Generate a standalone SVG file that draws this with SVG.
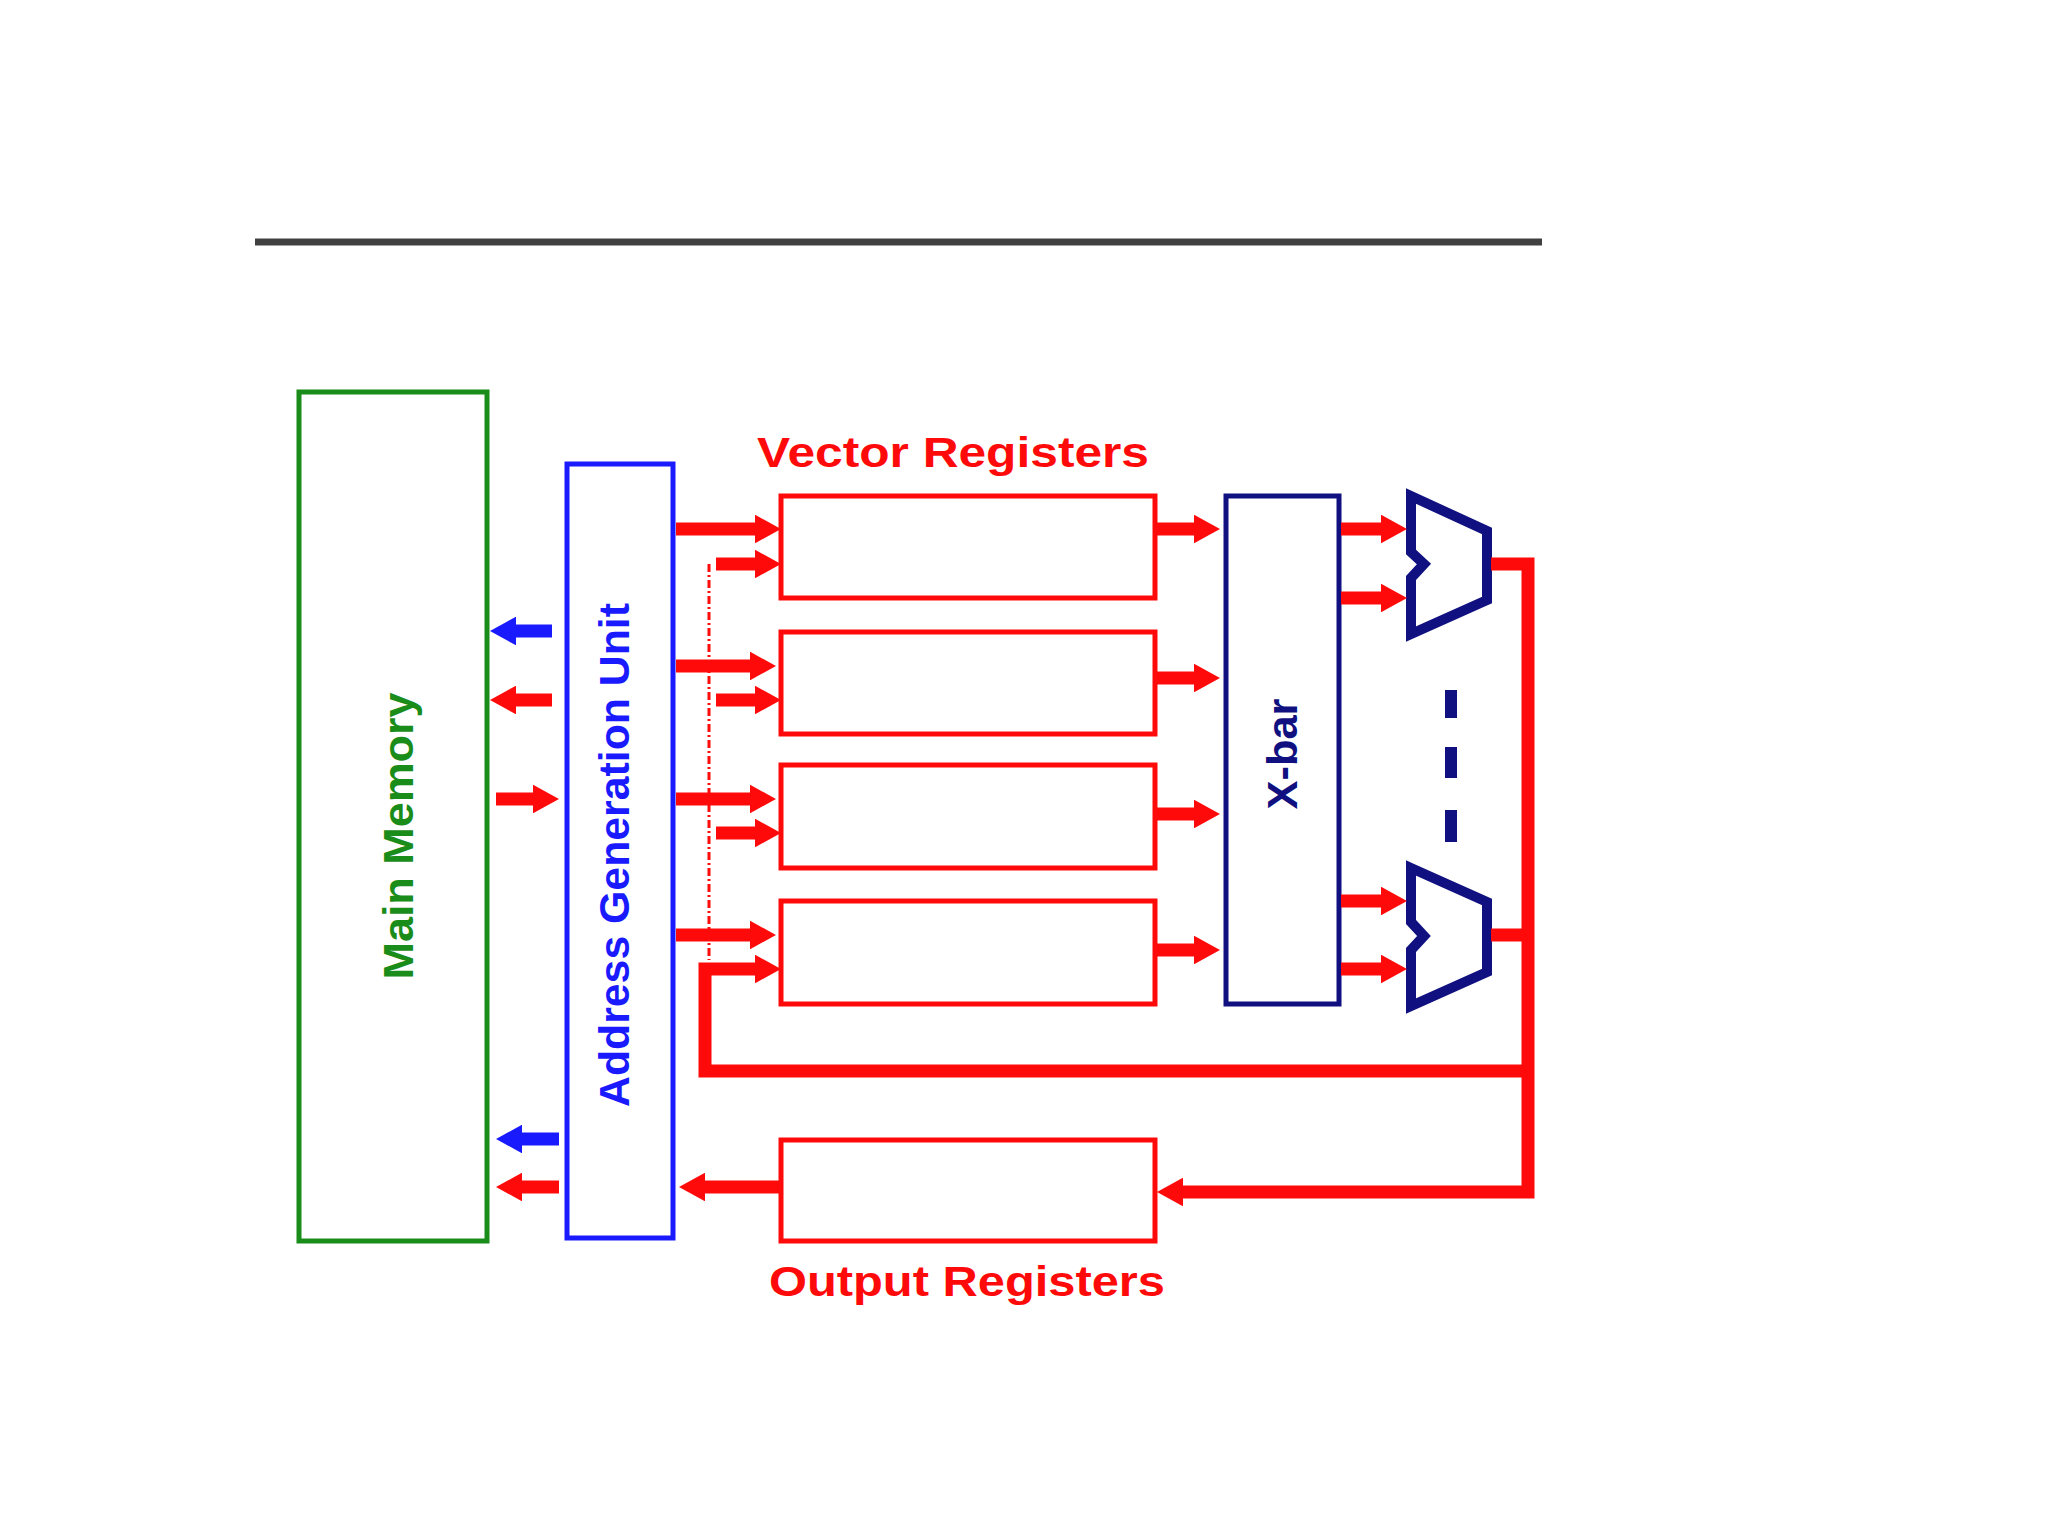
<svg xmlns="http://www.w3.org/2000/svg" width="2048" height="1536" viewBox="0 0 2048 1536">
<style>
.r{stroke:#ff0a0a;stroke-width:13;fill:none}
.b{stroke:#1a1aff;stroke-width:13;fill:none}
.box{fill:#fff;stroke-width:5}
.t{font-family:"Liberation Sans",Arial,sans-serif;font-weight:bold;font-size:43px;text-anchor:middle;dominant-baseline:central}
</style>
<defs>
<marker id="hr" markerWidth="2" markerHeight="2.2" refX="0" refY="1.1" orient="auto" markerUnits="strokeWidth"><path d="M0,0 L2,1.1 L0,2.2z" fill="#ff0a0a"/></marker>
<marker id="hb" markerWidth="2" markerHeight="2.2" refX="0" refY="1.1" orient="auto" markerUnits="strokeWidth"><path d="M0,0 L2,1.1 L0,2.2z" fill="#1a1aff"/></marker>
</defs>
<line x1="255" y1="242" x2="1542" y2="242" stroke="#404040" stroke-width="7"/>
<g id="main-memory"><rect class="box" x="299" y="392" width="188" height="849" stroke="#1a8c1a"/><text class="t" fill="#1a8c1a" transform="translate(398,836) rotate(-90)" textLength="287" lengthAdjust="spacingAndGlyphs">Main Memory</text></g>
<g id="agu"><rect class="box" x="567" y="464" width="106" height="774" stroke="#1a1aff"/><text class="t" fill="#1a1aff" transform="translate(614,855) rotate(-90)" textLength="504" lengthAdjust="spacingAndGlyphs">Address Generation Unit</text></g>
<g id="vreg-label"><text class="t" fill="#ff0a0a" x="953" y="452" textLength="392" lengthAdjust="spacingAndGlyphs">Vector Registers</text></g>
<g id="vreg1"><rect class="box" x="781" y="496" width="374" height="102" stroke="#ff0a0a"/></g>
<g id="vreg2"><rect class="box" x="781" y="632" width="374" height="102" stroke="#ff0a0a"/></g>
<g id="vreg3"><rect class="box" x="781" y="765" width="374" height="103" stroke="#ff0a0a"/></g>
<g id="vreg4"><rect class="box" x="781" y="901" width="374" height="103" stroke="#ff0a0a"/></g>
<g id="oreg"><rect class="box" x="781" y="1140" width="374" height="101" stroke="#ff0a0a"/><text class="t" fill="#ff0a0a" x="967" y="1281" textLength="396" lengthAdjust="spacingAndGlyphs">Output Registers</text></g>
<g id="xbar"><rect class="box" x="1226" y="496" width="113" height="508" stroke="#101080"/><text class="t" fill="#101080" transform="translate(1282,754) rotate(-90)" textLength="111" lengthAdjust="spacingAndGlyphs">X-bar</text></g>
<g id="alu1"><path d="M1411,496 L1487,531 L1487,600 L1411,634 L1411,578 L1424,564 L1411,552Z" fill="#fff" stroke="#101080" stroke-width="10"/></g>
<g id="alu2"><path d="M1411,868 L1487,902 L1487,972 L1411,1006 L1411,950 L1424,936 L1411,922Z" fill="#fff" stroke="#101080" stroke-width="10"/></g>
<g id="dots"><path d="M1451,690 V718 M1451,747 V778 M1451,810 V842" stroke="#101080" stroke-width="12"/></g>
<g id="connectors">
<line x1="709" y1="564" x2="709" y2="960" stroke="#ff0a0a" stroke-width="3" stroke-dasharray="8,3,2,3"/>
<line class="r" x1="676" y1="529" x2="755" y2="529" marker-end="url(#hr)"/>
<line class="r" x1="716" y1="564" x2="755" y2="564" marker-end="url(#hr)"/>
<line class="r" x1="676" y1="666" x2="750" y2="666" marker-end="url(#hr)"/>
<line class="r" x1="716" y1="700" x2="755" y2="700" marker-end="url(#hr)"/>
<line class="r" x1="676" y1="799" x2="750" y2="799" marker-end="url(#hr)"/>
<line class="r" x1="716" y1="833" x2="755" y2="833" marker-end="url(#hr)"/>
<line class="r" x1="676" y1="935" x2="750" y2="935" marker-end="url(#hr)"/>
<line class="r" x1="1157" y1="529" x2="1194" y2="529" marker-end="url(#hr)"/>
<line class="r" x1="1157" y1="678" x2="1194" y2="678" marker-end="url(#hr)"/>
<line class="r" x1="1157" y1="814" x2="1194" y2="814" marker-end="url(#hr)"/>
<line class="r" x1="1157" y1="950" x2="1194" y2="950" marker-end="url(#hr)"/>
<line class="r" x1="1341" y1="529" x2="1381" y2="529" marker-end="url(#hr)"/>
<line class="r" x1="1341" y1="598" x2="1381" y2="598" marker-end="url(#hr)"/>
<line class="r" x1="1341" y1="901" x2="1381" y2="901" marker-end="url(#hr)"/>
<line class="r" x1="1341" y1="969" x2="1381" y2="969" marker-end="url(#hr)"/>
<polyline class="r" points="1491,564 1528,564 1528,1192 1183,1192" marker-end="url(#hr)"/>
<line class="r" x1="1491" y1="935" x2="1528" y2="935"/>
<polyline class="r" points="1528,1071 705,1071 705,969 755,969" marker-end="url(#hr)"/>
<line class="r" x1="779" y1="1187" x2="705" y2="1187" marker-end="url(#hr)"/>
<line class="b" x1="552" y1="631" x2="516" y2="631" marker-end="url(#hb)"/>
<line class="r" x1="552" y1="700" x2="516" y2="700" marker-end="url(#hr)"/>
<line class="r" x1="496" y1="799" x2="533" y2="799" marker-end="url(#hr)"/>
<line class="b" x1="559" y1="1139" x2="522" y2="1139" marker-end="url(#hb)"/>
<line class="r" x1="559" y1="1187" x2="522" y2="1187" marker-end="url(#hr)"/>
</g>
</svg>
